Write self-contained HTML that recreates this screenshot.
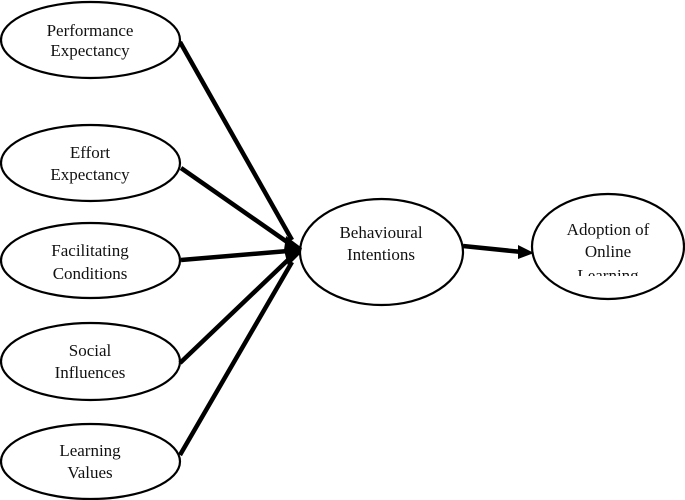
<!DOCTYPE html>
<html><head><meta charset="utf-8"><style>
html,body{margin:0;padding:0;background:#fff;}
svg{display:block;}
text{font-family:"Liberation Serif",serif;font-size:17px;fill:#111;text-anchor:middle;}
</style></head><body>
<svg width="685" height="500" viewBox="0 0 685 500" xmlns="http://www.w3.org/2000/svg">
<defs>
<marker id="ah" markerWidth="4" markerHeight="4" refX="3.5" refY="2" orient="auto" markerUnits="strokeWidth">
<path d="M0,0 L4,2 L0,4 z" fill="#000"/></marker>
<clipPath id="cl"><rect x="520" y="0" width="165" height="276"/></clipPath>
</defs>
<g fill="none" stroke="#000" stroke-width="2.2">
<ellipse cx="90.5" cy="40" rx="89.5" ry="38"/>
<ellipse cx="90.5" cy="163" rx="89.5" ry="38"/>
<ellipse cx="90.5" cy="260.5" rx="89.5" ry="37.5"/>
<ellipse cx="90.5" cy="361.5" rx="89.5" ry="38.5"/>
<ellipse cx="90.5" cy="461.5" rx="89.5" ry="37.5"/>
<ellipse cx="381.5" cy="252" rx="81.5" ry="53"/>
<ellipse cx="608" cy="246.5" rx="76" ry="52.5"/>
</g>
<g stroke="#000" stroke-width="4.5" stroke-linecap="butt">
<line x1="180" y1="42" x2="292" y2="240"/>
<line x1="181" y1="168" x2="290" y2="244"/>
<line x1="181" y1="260" x2="288" y2="251"/>
<line x1="180" y1="363" x2="290" y2="258"/>
<line x1="180" y1="455" x2="292" y2="262"/>
</g>
<polygon points="286,236 302,248 300,254 288,266 284,250" fill="#000"/>
<line x1="463" y1="246" x2="522" y2="252" stroke="#000" stroke-width="4.5"/>
<polygon points="518,245 534,253 518,259" fill="#000"/>
<text x="90" y="36">Performance</text>
<text x="90" y="56">Expectancy</text>
<text x="90" y="158">Effort</text>
<text x="90" y="180">Expectancy</text>
<text x="90" y="256">Facilitating</text>
<text x="90" y="279">Conditions</text>
<text x="90" y="356">Social</text>
<text x="90" y="378">Influences</text>
<text x="90" y="456">Learning</text>
<text x="90" y="478">Values</text>
<text x="381" y="238">Behavioural</text>
<text x="381" y="260">Intentions</text>
<text x="608" y="235">Adoption of</text>
<text x="608" y="257">Online</text>
<text x="608" y="281" clip-path="url(#cl)">Learning</text>
</svg>
</body></html>
